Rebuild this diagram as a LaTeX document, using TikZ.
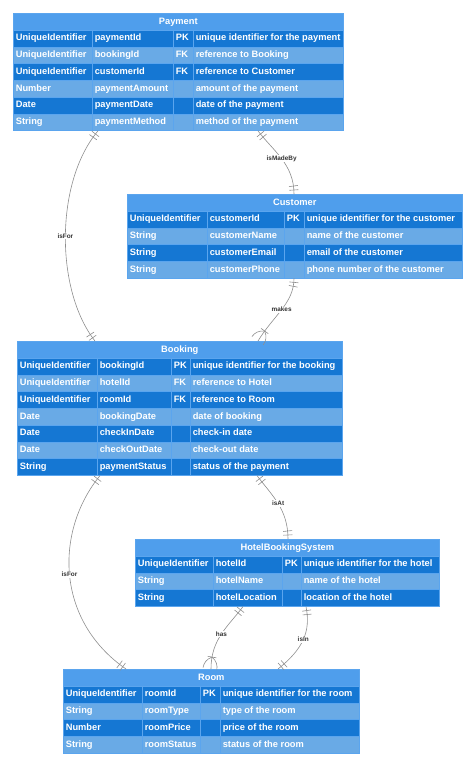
\documentclass[tikz,border=0pt]{standalone}
\usepackage{fontspec}
\setmainfont{Liberation Sans}
\usepackage{xcolor}
\usepackage{tikz}
\usetikzlibrary{arrows.meta,positioning,fit,decorations.markings}

\definecolor{headblue}{HTML}{4F9EEC}
\definecolor{rowdark}{HTML}{1577D3}
\definecolor{rowlight}{HTML}{69AAE6}
\definecolor{edgeblue}{HTML}{5BA5EE}
\definecolor{linkgray}{HTML}{8E8E8E}

% one entity table: name, title, x, y, four column widths, rows
\newcommand{\entity}[9]{%
    \pgfmathsetmacro\tw{#5+#6+#7+#8}
    \pgfmathsetmacro\xb{#3+#5}
    \pgfmathsetmacro\xc{\xb+#6}
    \pgfmathsetmacro\xd{\xc+#7}
    \pgfmathsetmacro\cwa{#5-5}
    \pgfmathsetmacro\cwb{#6-5}
    \pgfmathsetmacro\cwc{#7-5}
    \pgfmathsetmacro\cwd{#8-5}
    \node[head, minimum width=\tw pt] (#1-h) at (#3,#4) {#2};
    \foreach \ty/\fld/\kk/\desc [count=\i] in {#9}{%
        \pgfmathsetmacro\yy{#4+16.75*\i}
        \ifodd\i\relax\def\rowc{rowdark}\else\def\rowc{rowlight}\fi
        \node[cell, fill=\rowc] (#1-\i-a) at (#3,\yy) {\makebox[\cwa pt][l]{\ty}};
        \node[cell, fill=\rowc] (#1-\i-b) at (\xb,\yy) {\makebox[\cwb pt][l]{\fld}};
        \node[cell, fill=\rowc] (#1-\i-c) at (\xc,\yy) {\makebox[\cwc pt][l]{\kk}};
        \node[cell, fill=\rowc] (#1-\i-d) at (\xd,\yy) {\makebox[\cwd pt][l]{\desc}};
        \xdef\lastrow{\i}
    }
    \node[inner sep=0pt, outer sep=0pt, fit=(#1-h)(#1-\lastrow-d)] (#1) {};
}

\begin{document}
\begin{tikzpicture}[
        x=1pt, y=-1pt,
        font=\bfseries\fontsize{9.3}{11}\selectfont,
        head/.style={anchor=north west, draw=edgeblue, line width=0.6pt, fill=headblue, text=white,
                     minimum height=16.75pt, inner sep=0pt, text height=7pt, text depth=2pt},
        cell/.style={anchor=north west, draw=edgeblue, line width=0.6pt, text=white,
                     minimum height=16.75pt, inner xsep=2.5pt, inner ysep=0pt, text height=7pt, text depth=2pt},
        link/.style={draw=linkgray, line width=0.6pt},
        tick/.style={draw=linkgray, line width=0.6pt},
        rel/.style={fill=white, inner sep=0.8pt, text=black!80, font=\bfseries\fontsize{6.4}{7}\selectfont},
        oneone/.style={postaction={decorate, decoration={markings,
            mark=at position 4pt with {\draw[tick] (0,-4.5pt) -- (0,4.5pt);},
            mark=at position 8pt with {\draw[tick] (0,-4.5pt) -- (0,4.5pt);},
            mark=at position -8pt with {\draw[tick] (0,-4.5pt) -- (0,4.5pt);},
            mark=at position -4pt with {\draw[tick] (0,-4.5pt) -- (0,4.5pt);}}}},
        onemany/.style={postaction={decorate, decoration={markings,
            mark=at position 4pt with {\draw[tick] (0,-4.5pt) -- (0,4.5pt);},
            mark=at position 8pt with {\draw[tick] (0,-4.5pt) -- (0,4.5pt);},
            mark=at position -12pt with {\draw[tick] (0,-4.5pt) -- (0,4.5pt);
                \draw[tick] (0,0) .. controls (3pt,5pt) and (7pt,7pt) .. (12pt,7pt);
                \draw[tick] (0,0) .. controls (3pt,-5pt) and (7pt,-7pt) .. (12pt,-7pt);}}}}
    ]
    \useasboundingbox (0,0) rectangle (474,766);

    \entity{pay}{Payment}{13}{13}{79}{81}{20}{150}{
        UniqueIdentifier/paymentId/PK/unique identifier for the payment,
        UniqueIdentifier/bookingId/FK/reference to Booking,
        UniqueIdentifier/customerId/FK/reference to Customer,
        Number/paymentAmount//amount of the payment,
        Date/paymentDate//date of the payment,
        String/paymentMethod//method of the payment}

    \entity{cus}{Customer}{127}{194}{80}{77}{20}{158}{
        UniqueIdentifier/customerId/PK/unique identifier for the customer,
        String/customerName//name of the customer,
        String/customerEmail//email of the customer,
        String/customerPhone//phone number of the customer}

    \entity{boo}{Booking}{17}{341}{80}{74}{19}{152}{
        UniqueIdentifier/bookingId/PK/unique identifier for the booking,
        UniqueIdentifier/hotelId/FK/reference to Hotel,
        UniqueIdentifier/roomId/FK/reference to Room,
        Date/bookingDate//date of booking,
        Date/checkInDate//check-in date,
        Date/checkOutDate//check-out date,
        String/paymentStatus//status of the payment}

    \entity{hot}{HotelBookingSystem}{135}{539}{78}{69}{19}{138}{
        UniqueIdentifier/hotelId/PK/unique identifier for the hotel,
        String/hotelName//name of the hotel,
        String/hotelLocation//location of the hotel}

    \entity{roo}{Room}{63}{669}{79}{58}{20}{139}{
        UniqueIdentifier/roomId/PK/unique identifier for the room,
        String/roomType//type of the room,
        Number/roomPrice//price of the room,
        String/roomStatus//status of the room}

    % relationships
    \draw[link, oneone] ([xshift=245pt]pay.south west) .. controls +(15,20) and +(0,-30) ..
        node[rel, midway] {isMadeBy} ([xshift=167pt]cus.north west);
    \draw[link, oneone] ([xshift=85pt]pay.south west) .. controls +(-43,51) and +(-40,-51) ..
        node[rel, midway] {isFor} ([xshift=78pt]boo.north west);
    \draw[link, onemany] ([xshift=167pt]cus.south west) .. controls +(0,25) and +(15,-25) ..
        node[rel, midway] {makes} ([xshift=241pt]boo.north west);
    \draw[link, oneone] ([xshift=83pt]boo.south west) .. controls +(-45,55) and +(-71,-49) ..
        node[rel, midway] {isFor} ([xshift=63pt]roo.north west);
    \draw[link, oneone] ([xshift=240pt]boo.south west) .. controls +(15,20) and +(0,-30) ..
        node[rel, midway] {isAt} ([xshift=153pt]hot.north west);
    \draw[link, onemany] ([xshift=108pt]hot.south west) .. controls +(-15,20) and +(0,-30) ..
        node[rel, midway] {has} ([xshift=148pt]roo.north west);
    \draw[link, oneone] ([xshift=171pt]hot.south west) .. controls +(5,25) and +(25,-20) ..
        node[rel, midway] {isIn} ([xshift=215pt]roo.north west);
\end{tikzpicture}
\end{document}
